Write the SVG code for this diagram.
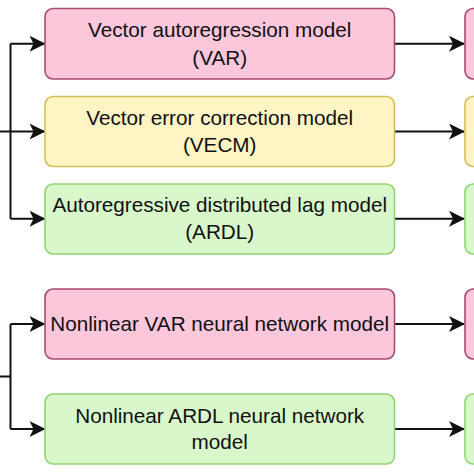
<svg xmlns="http://www.w3.org/2000/svg" width="474" height="474" viewBox="0 0 474 474">
<style>
.box{stroke-width:1.6}
.pink{fill:#fcc6db;stroke:#ab4a6c}
.yellow{fill:#fff4c4;stroke:#d4bf5c}
.green{fill:#d8f7ca;stroke:#92d472}
text{font-family:"Liberation Sans",Arial,sans-serif;font-size:20.7px;fill:#111;text-anchor:middle}
.edge{fill:none;stroke:#111;stroke-width:2}
</style>
<defs>
<marker id="arr" viewBox="0 0 16 16" refX="15" refY="8" markerWidth="16" markerHeight="16" markerUnits="userSpaceOnUse" orient="auto">
<path d="M0,0 L16,8 L0,16 L4,8 Z" fill="#111"/>
</marker>
</defs>
<rect width="474" height="474" fill="#fff"/>
<g id="connectors">
<path class="edge" d="M0,131.5 H10.5"/>
<path class="edge" d="M10.5,43.7 V218.7"/>
<path class="edge" d="M10.5,43.7 H44.5" marker-end="url(#arr)"/>
<path class="edge" d="M10.5,131.5 H44.5" marker-end="url(#arr)"/>
<path class="edge" d="M10.5,218.7 H44.5" marker-end="url(#arr)"/>
<path class="edge" d="M0,376.5 H10.5"/>
<path class="edge" d="M10.5,324 V429"/>
<path class="edge" d="M10.5,324 H44.5" marker-end="url(#arr)"/>
<path class="edge" d="M10.5,429 H44.5" marker-end="url(#arr)"/>
<path class="edge" d="M394.5,43.7 H464" marker-end="url(#arr)"/>
<path class="edge" d="M394.5,131.5 H464" marker-end="url(#arr)"/>
<path class="edge" d="M394.5,218.7 H464" marker-end="url(#arr)"/>
<path class="edge" d="M394.5,324 H464" marker-end="url(#arr)"/>
<path class="edge" d="M394.5,429 H464" marker-end="url(#arr)"/>
</g>
<g id="var">
<rect class="box pink" x="45" y="8.5" width="349.5" height="70.5" rx="8"/>
<text x="219.7" y="37.3">Vector autoregression model</text>
<text x="219.7" y="64.5">(VAR)</text>
</g>
<g id="vecm">
<rect class="box yellow" x="45" y="96.5" width="349.5" height="70" rx="8"/>
<text x="219.7" y="125">Vector error correction model</text>
<text x="219.7" y="152">(VECM)</text>
</g>
<g id="ardl">
<rect class="box green" x="45" y="184" width="349.5" height="70" rx="8"/>
<text x="219.7" y="212">Autoregressive distributed lag model</text>
<text x="219.7" y="238.5">(ARDL)</text>
</g>
<g id="nvar">
<rect class="box pink" x="45" y="289" width="349.5" height="70" rx="8"/>
<text x="219.7" y="330.5">Nonlinear VAR neural network model</text>
</g>
<g id="nardl">
<rect class="box green" x="45" y="394" width="349.5" height="70" rx="8"/>
<text x="219.7" y="422.7">Nonlinear ARDL neural network</text>
<text x="219.7" y="449.3">model</text>
</g>
<g id="var-next"><rect class="box pink" x="465" y="8.5" width="40" height="70.5" rx="8"/></g>
<g id="vecm-next"><rect class="box yellow" x="465" y="96.5" width="40" height="70" rx="8"/></g>
<g id="ardl-next"><rect class="box green" x="465" y="184" width="40" height="70" rx="8"/></g>
<g id="nvar-next"><rect class="box pink" x="465" y="289" width="40" height="70" rx="8"/></g>
<g id="nardl-next"><rect class="box green" x="465" y="394" width="40" height="70" rx="8"/></g>
</svg>
